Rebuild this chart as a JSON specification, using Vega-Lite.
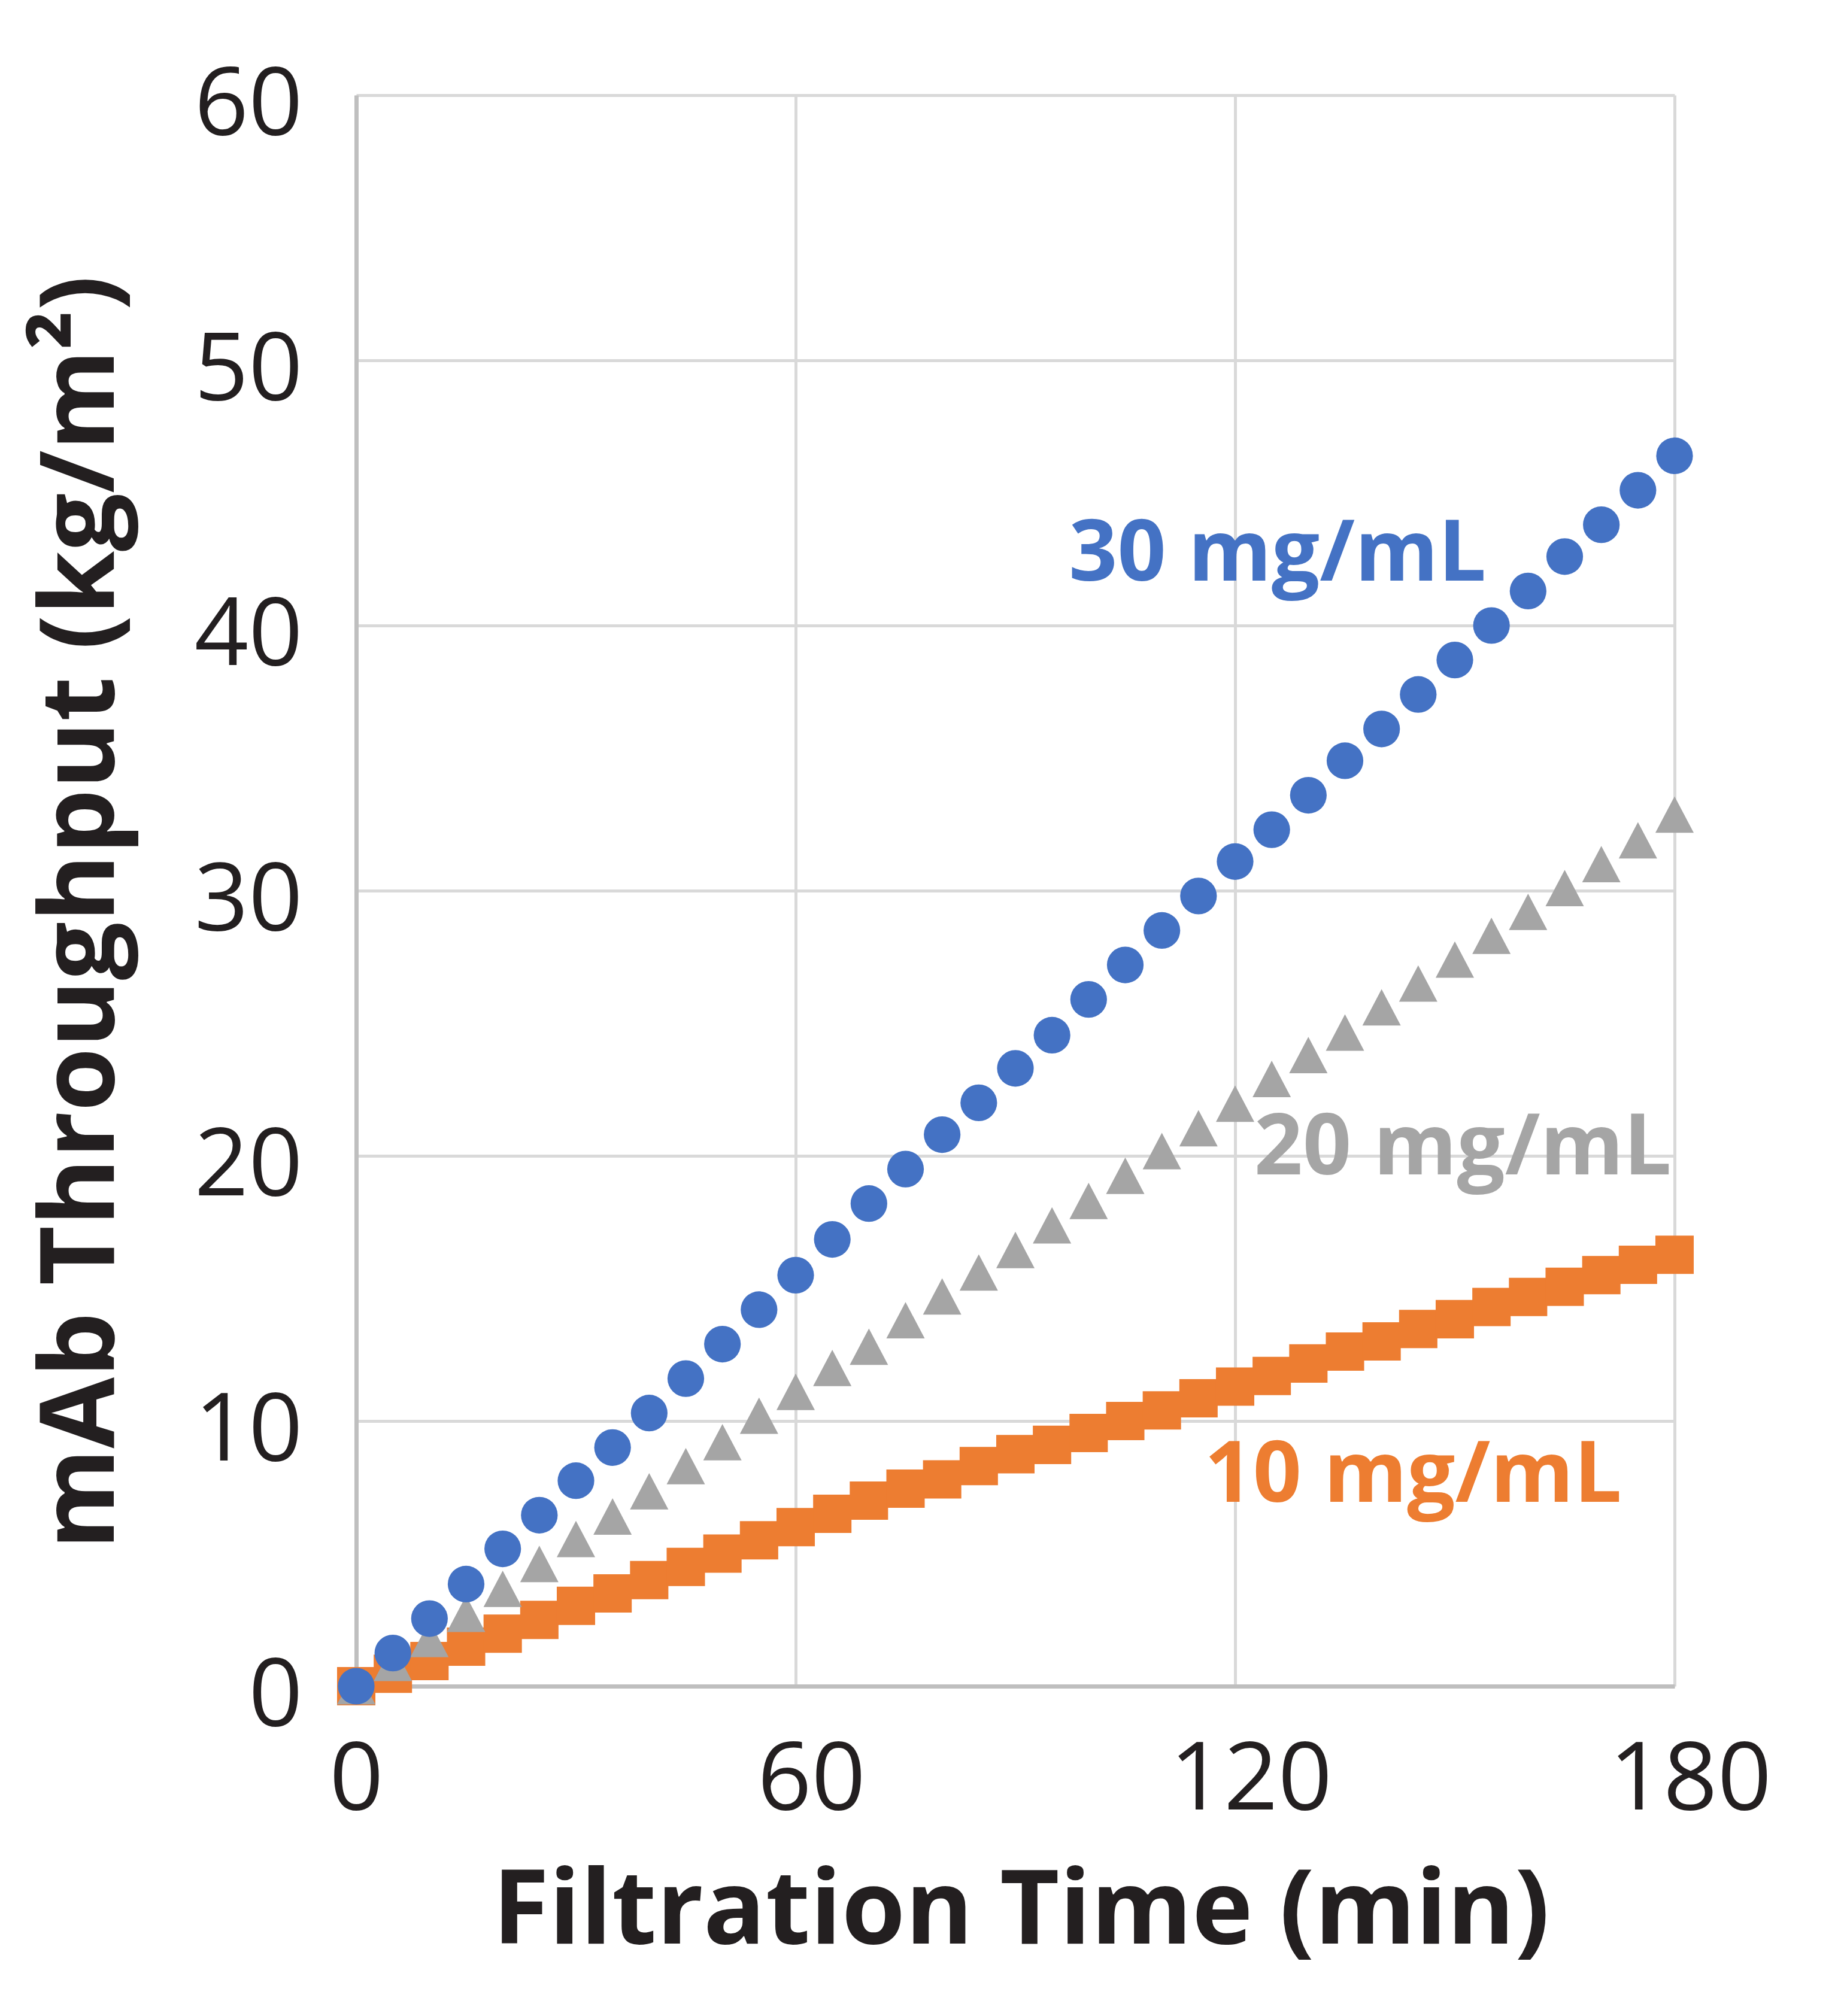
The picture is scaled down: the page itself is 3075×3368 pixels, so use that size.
{
  "$schema": "https://vega.github.io/schema/vega-lite/v6.json",
  "width": 2202,
  "height": 2658,
  "autosize": {"type": "none"},
  "padding": {"left": 595, "top": 159, "right": 278, "bottom": 551},
  "background": "white",
  "config": {
    "view": {"stroke": null},
    "font": "Open Sans",
    "axis": {
      "grid": true,
      "gridColor": "#D9D9D9",
      "gridWidth": 5,
      "domainColor": "#BFBFBF",
      "domainWidth": 7,
      "ticks": false,
      "tickSize": 0,
      "labelFont": "Open Sans",
      "labelFontSize": 158,
      "labelColor": "#231F20",
      "labelLimit": 0,
      "labelFlush": false,
      "labelOverlap": false,
      "labelBound": false,
      "titleFont": "Open Sans",
      "titleFontSize": 172,
      "titleFontWeight": "bold",
      "titleColor": "#231F20",
      "titleLimit": 0
    }
  },
  "datasets": {
    "throughput": [
      {"conc": "10 mg/mL", "t": 0, "v": 0},
      {"conc": "10 mg/mL", "t": 5, "v": 0.47},
      {"conc": "10 mg/mL", "t": 10, "v": 0.95},
      {"conc": "10 mg/mL", "t": 15, "v": 1.49},
      {"conc": "10 mg/mL", "t": 20, "v": 1.98},
      {"conc": "10 mg/mL", "t": 25, "v": 2.5},
      {"conc": "10 mg/mL", "t": 30, "v": 3.03},
      {"conc": "10 mg/mL", "t": 35, "v": 3.5},
      {"conc": "10 mg/mL", "t": 40, "v": 4.0},
      {"conc": "10 mg/mL", "t": 45, "v": 4.5},
      {"conc": "10 mg/mL", "t": 50, "v": 5.0},
      {"conc": "10 mg/mL", "t": 55, "v": 5.5},
      {"conc": "10 mg/mL", "t": 60, "v": 6.0},
      {"conc": "10 mg/mL", "t": 65, "v": 6.5},
      {"conc": "10 mg/mL", "t": 70, "v": 7.0},
      {"conc": "10 mg/mL", "t": 75, "v": 7.45},
      {"conc": "10 mg/mL", "t": 80, "v": 7.8},
      {"conc": "10 mg/mL", "t": 85, "v": 8.3},
      {"conc": "10 mg/mL", "t": 90, "v": 8.75},
      {"conc": "10 mg/mL", "t": 95, "v": 9.1},
      {"conc": "10 mg/mL", "t": 100, "v": 9.55},
      {"conc": "10 mg/mL", "t": 105, "v": 10.0},
      {"conc": "10 mg/mL", "t": 110, "v": 10.4},
      {"conc": "10 mg/mL", "t": 115, "v": 10.86},
      {"conc": "10 mg/mL", "t": 120, "v": 11.3},
      {"conc": "10 mg/mL", "t": 125, "v": 11.7},
      {"conc": "10 mg/mL", "t": 130, "v": 12.17},
      {"conc": "10 mg/mL", "t": 135, "v": 12.62},
      {"conc": "10 mg/mL", "t": 140, "v": 13.0},
      {"conc": "10 mg/mL", "t": 145, "v": 13.47},
      {"conc": "10 mg/mL", "t": 150, "v": 13.84},
      {"conc": "10 mg/mL", "t": 155, "v": 14.3},
      {"conc": "10 mg/mL", "t": 160, "v": 14.68},
      {"conc": "10 mg/mL", "t": 165, "v": 15.06},
      {"conc": "10 mg/mL", "t": 170, "v": 15.5},
      {"conc": "10 mg/mL", "t": 175, "v": 15.89},
      {"conc": "10 mg/mL", "t": 180, "v": 16.27},
      {"conc": "20 mg/mL", "t": 0, "v": 0},
      {"conc": "20 mg/mL", "t": 5, "v": 0.88},
      {"conc": "20 mg/mL", "t": 10, "v": 1.78},
      {"conc": "20 mg/mL", "t": 15, "v": 2.73},
      {"conc": "20 mg/mL", "t": 20, "v": 3.67},
      {"conc": "20 mg/mL", "t": 25, "v": 4.61},
      {"conc": "20 mg/mL", "t": 30, "v": 5.55},
      {"conc": "20 mg/mL", "t": 35, "v": 6.4},
      {"conc": "20 mg/mL", "t": 40, "v": 7.35},
      {"conc": "20 mg/mL", "t": 45, "v": 8.3},
      {"conc": "20 mg/mL", "t": 50, "v": 9.2},
      {"conc": "20 mg/mL", "t": 55, "v": 10.2},
      {"conc": "20 mg/mL", "t": 60, "v": 11.1},
      {"conc": "20 mg/mL", "t": 65, "v": 12.0},
      {"conc": "20 mg/mL", "t": 70, "v": 12.8},
      {"conc": "20 mg/mL", "t": 75, "v": 13.8},
      {"conc": "20 mg/mL", "t": 80, "v": 14.7},
      {"conc": "20 mg/mL", "t": 85, "v": 15.6},
      {"conc": "20 mg/mL", "t": 90, "v": 16.45},
      {"conc": "20 mg/mL", "t": 95, "v": 17.38},
      {"conc": "20 mg/mL", "t": 100, "v": 18.3},
      {"conc": "20 mg/mL", "t": 105, "v": 19.25},
      {"conc": "20 mg/mL", "t": 110, "v": 20.18},
      {"conc": "20 mg/mL", "t": 115, "v": 21.04},
      {"conc": "20 mg/mL", "t": 120, "v": 21.97},
      {"conc": "20 mg/mL", "t": 125, "v": 22.9},
      {"conc": "20 mg/mL", "t": 130, "v": 23.8},
      {"conc": "20 mg/mL", "t": 135, "v": 24.65},
      {"conc": "20 mg/mL", "t": 140, "v": 25.6},
      {"conc": "20 mg/mL", "t": 145, "v": 26.5},
      {"conc": "20 mg/mL", "t": 150, "v": 27.4},
      {"conc": "20 mg/mL", "t": 155, "v": 28.3},
      {"conc": "20 mg/mL", "t": 160, "v": 29.2},
      {"conc": "20 mg/mL", "t": 165, "v": 30.1},
      {"conc": "20 mg/mL", "t": 170, "v": 31.0},
      {"conc": "20 mg/mL", "t": 175, "v": 31.9},
      {"conc": "20 mg/mL", "t": 180, "v": 32.87},
      {"conc": "30 mg/mL", "t": 0, "v": 0},
      {"conc": "30 mg/mL", "t": 5, "v": 1.25},
      {"conc": "30 mg/mL", "t": 10, "v": 2.55},
      {"conc": "30 mg/mL", "t": 15, "v": 3.85},
      {"conc": "30 mg/mL", "t": 20, "v": 5.18},
      {"conc": "30 mg/mL", "t": 25, "v": 6.45},
      {"conc": "30 mg/mL", "t": 30, "v": 7.75},
      {"conc": "30 mg/mL", "t": 35, "v": 9.0},
      {"conc": "30 mg/mL", "t": 40, "v": 10.3},
      {"conc": "30 mg/mL", "t": 45, "v": 11.6},
      {"conc": "30 mg/mL", "t": 50, "v": 12.9},
      {"conc": "30 mg/mL", "t": 55, "v": 14.2},
      {"conc": "30 mg/mL", "t": 60, "v": 15.5},
      {"conc": "30 mg/mL", "t": 65, "v": 16.85},
      {"conc": "30 mg/mL", "t": 70, "v": 18.2},
      {"conc": "30 mg/mL", "t": 75, "v": 19.5},
      {"conc": "30 mg/mL", "t": 80, "v": 20.8},
      {"conc": "30 mg/mL", "t": 85, "v": 22.0},
      {"conc": "30 mg/mL", "t": 90, "v": 23.3},
      {"conc": "30 mg/mL", "t": 95, "v": 24.55},
      {"conc": "30 mg/mL", "t": 100, "v": 25.9},
      {"conc": "30 mg/mL", "t": 105, "v": 27.2},
      {"conc": "30 mg/mL", "t": 110, "v": 28.5},
      {"conc": "30 mg/mL", "t": 115, "v": 29.8},
      {"conc": "30 mg/mL", "t": 120, "v": 31.1},
      {"conc": "30 mg/mL", "t": 125, "v": 32.3},
      {"conc": "30 mg/mL", "t": 130, "v": 33.6},
      {"conc": "30 mg/mL", "t": 135, "v": 34.9},
      {"conc": "30 mg/mL", "t": 140, "v": 36.1},
      {"conc": "30 mg/mL", "t": 145, "v": 37.4},
      {"conc": "30 mg/mL", "t": 150, "v": 38.7},
      {"conc": "30 mg/mL", "t": 155, "v": 40.0},
      {"conc": "30 mg/mL", "t": 160, "v": 41.3},
      {"conc": "30 mg/mL", "t": 165, "v": 42.6},
      {"conc": "30 mg/mL", "t": 170, "v": 43.8},
      {"conc": "30 mg/mL", "t": 175, "v": 45.1},
      {"conc": "30 mg/mL", "t": 180, "v": 46.4}
    ],
    "series_labels": [
      {"conc": "30 mg/mL", "t": 125.8, "v": 41.7},
      {"conc": "20 mg/mL", "t": 151.1, "v": 19.3},
      {"conc": "10 mg/mL", "t": 144.3, "v": 6.95}
    ]
  },
  "encoding": {
    "x": {
      "field": "t",
      "type": "quantitative",
      "scale": {"domain": [0, 180], "nice": false, "zero": true},
      "axis": {
        "values": [0, 60, 120, 180],
        "title": "Filtration Time (min)",
        "labelPadding": 80,
        "labelOffset": {"condition": {"test": "datum.value > 0", "value": 26}, "value": 0},
        "titleX": 1110,
        "titleY": 429,
        "titleAlign": "center",
        "titleBaseline": "alphabetic"
      }
    },
    "y": {
      "field": "v",
      "type": "quantitative",
      "scale": {"domain": [0, 60], "nice": false, "zero": true},
      "axis": {
        "values": [0, 10, 20, 30, 40, 50, 60],
        "title": "mAb Throughput (kg/m²)",
        "labelPadding": 90,
        "labelOffset": 18,
        "titleX": -406,
        "titleY": 1365,
        "titleAngle": 270,
        "titleAlign": "center",
        "titleBaseline": "alphabetic"
      }
    }
  },
  "layer": [
    {
      "data": {"name": "throughput"},
      "transform": [{"filter": "datum.conc === '10 mg/mL'"}],
      "mark": {"type": "point", "shape": "square", "filled": true, "opacity": 1, "size": 4100, "color": "#ED7D31", "strokeWidth": 0}
    },
    {
      "data": {"name": "throughput"},
      "transform": [{"filter": "datum.conc === '20 mg/mL'"}],
      "mark": {"type": "point", "shape": "M0,-0.95L1,0.95L-1,0.95Z", "filled": true, "opacity": 1, "size": 4100, "color": "#A5A5A5", "strokeWidth": 0}
    },
    {
      "data": {"name": "throughput"},
      "transform": [{"filter": "datum.conc === '30 mg/mL'"}],
      "mark": {"type": "point", "shape": "circle", "filled": true, "opacity": 1, "size": 3750, "color": "#4472C4", "strokeWidth": 0}
    },
    {
      "data": {"name": "series_labels"},
      "mark": {"type": "text", "font": "Open Sans", "fontSize": 142, "fontWeight": "bold", "align": "center", "baseline": "alphabetic"},
      "encoding": {
        "text": {"field": "conc", "type": "nominal"},
        "color": {
          "field": "conc",
          "type": "nominal",
          "scale": {"domain": ["10 mg/mL", "20 mg/mL", "30 mg/mL"], "range": ["#ED7D31", "#A5A5A5", "#4472C4"]},
          "legend": null
        }
      }
    }
  ]
}
